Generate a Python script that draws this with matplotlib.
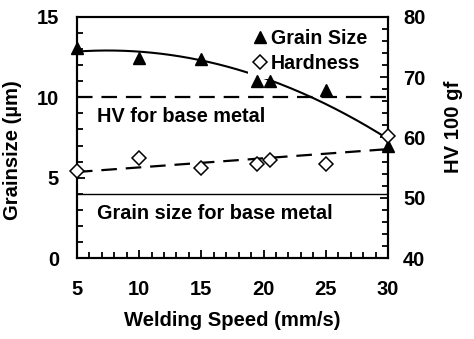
import matplotlib
matplotlib.use("Agg")
import matplotlib.pyplot as plt
from matplotlib.ticker import MultipleLocator
from matplotlib.lines import Line2D
import numpy as np

plt.rcParams["font.family"] = ["Liberation Sans", "DejaVu Sans"]
plt.rcParams["font.weight"] = "bold"

# data
speed = [5, 10, 15, 19.5, 20.5, 25, 30]
grain_size = [13.1, 12.45, 12.4, 11.0, 11.0, 10.45, 7.0]
hardness = [54.4, 56.6, 54.9, 55.6, 56.3, 55.6, 60.2]
grain_base = 4.0
hv_base = 66.7

fig = plt.figure(figsize=(4.74, 3.39), dpi=100)
ax = fig.add_axes([0.1624, 0.2389, 0.6561, 0.711])
ax2 = ax.twinx()

# trend lines (Excel style fits)
xs = np.linspace(5, 30, 200)
gs_fit = np.polyval(np.polyfit(speed, grain_size, 2), xs)
hv_fit = np.polyval(np.polyfit(speed, hardness, 1), xs)

ax.plot(xs, gs_fit, color="black", lw=1.5, zorder=3)
ax.plot(speed, grain_size, "^", color="black", ms=9, zorder=4, clip_on=False)
ax.axhline(grain_base, color="black", lw=1.0)

ax2.plot(xs, hv_fit, color="black", lw=1.6, dashes=(7, 4))
ax2.plot(speed, hardness, "D", mfc="white", mec="black", mew=1.1, ms=7, zorder=4, clip_on=False)
ax2.axhline(hv_base, color="black", lw=1.6, dashes=(7, 4))

ax.text(6.6, 8.8, "HV for base metal", fontsize=14.3, fontweight="bold", va="center")
ax.text(6.6, 2.8, "Grain size for base metal", fontsize=14.3, fontweight="bold", va="center")

ax.set_xlim(5, 30)
ax.set_ylim(0, 15)
ax2.set_ylim(40, 80)

ax.xaxis.set_major_locator(MultipleLocator(5))
ax.xaxis.set_minor_locator(MultipleLocator(1))
ax.yaxis.set_major_locator(MultipleLocator(5))
ax.yaxis.set_minor_locator(MultipleLocator(1))
ax2.yaxis.set_major_locator(MultipleLocator(10))
ax2.yaxis.set_minor_locator(MultipleLocator(2))

for a in (ax, ax2):
    for s in a.spines.values():
        s.set_linewidth(1.5)
ax.tick_params(which="both", direction="in", width=1.3, labelsize=14.5)
ax.tick_params(which="major", length=6)
ax.tick_params(which="minor", length=4)
ax.tick_params(axis="x", pad=16)
ax.tick_params(axis="y", pad=13)
ax.tick_params(axis="x", which="both", top=False)
ax2.tick_params(which="both", direction="in", width=1.3, labelsize=14.5, pad=11)
ax2.tick_params(which="major", length=6)
ax2.tick_params(which="minor", length=4)

ax.set_xlabel("Welding Speed (mm/s)", fontsize=14.6, fontweight="bold")
ax.set_ylabel("Grainsize (\u00b5m)", fontsize=14.6, fontweight="bold")
ax2.set_ylabel("HV 100 gf", fontsize=14.6, fontweight="bold")
ax.xaxis.set_label_coords(0.5, -0.22)
ax.yaxis.set_label_coords(-0.177, 0.448)
ax2.yaxis.set_label_coords(1.18, 0.544)

# legend sits on the left axes: above the fitted curve, below the markers
handles = [
    Line2D([], [], ls="none", marker="^", color="black", ms=9),
    Line2D([], [], ls="none", marker="D", mfc="white", mec="black", mew=1.1, ms=7),
]
leg = ax.legend(handles, ["Grain Size", "Hardness"], loc="upper right",
                bbox_to_anchor=(0.952, 0.975),
                prop={"size": 14.1, "weight": "bold"}, frameon=True,
                handlelength=0.6, handletextpad=0.25, borderaxespad=0,
                borderpad=0.3, labelspacing=0.3, fancybox=False)
leg.get_frame().set_edgecolor("none")
leg.get_frame().set_facecolor("white")
leg.get_frame().set_alpha(1)
leg.set_zorder(3.5)

fig.savefig("out.png", dpi=100)
